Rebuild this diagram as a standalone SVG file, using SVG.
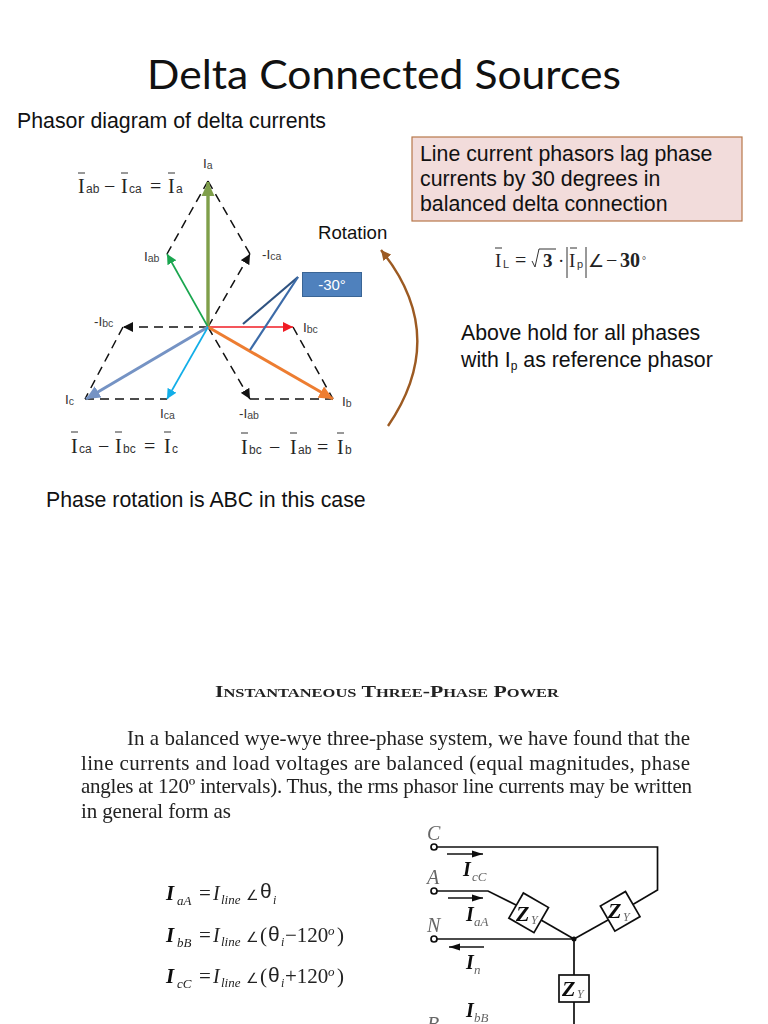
<svg xmlns="http://www.w3.org/2000/svg" width="768" height="1024" viewBox="0 0 768 1024">
<style>
.s{font-family:"Liberation Sans",Arial,sans-serif;fill:#111}
.m{font-size:21.3px}
.l{font-size:13.500px;fill:#333}
.ls{font-size:10.500px;fill:#444}
.e{font-family:"Liberation Serif","Times New Roman",serif;font-size:20px;fill:#222}
.es{font-family:"Liberation Sans",Arial,sans-serif;font-size:12px;fill:#333}
.bar{stroke:#333;stroke-width:1;fill:none}
.d{stroke:#111;stroke-width:1.5;stroke-dasharray:9 6;fill:none}
.t{font-family:"Liberation Serif","Times New Roman",serif;font-size:21px;fill:#222}
.q{font-family:"Liberation Serif","Times New Roman",serif;font-size:21px;fill:#222}
.i{font-family:"Liberation Serif","Times New Roman",serif;font-style:italic;fill:#222}
.bi{font-family:"Liberation Serif","Times New Roman",serif;font-style:italic;font-weight:bold;fill:#111}
.ang{font-family:"Liberation Serif","Times New Roman",serif;font-size:14px;fill:#222}
.th{font-family:"Liberation Sans",Arial,sans-serif;font-size:21px;fill:#222}
.w{stroke:#111;stroke-width:1.7;fill:none}
.soft{filter:url(#blur)}
</style>
<defs>
<filter id="blur" x="-5%" y="-5%" width="110%" height="110%"><feGaussianBlur stdDeviation="0.4"/></filter>
<marker id="ak" markerUnits="userSpaceOnUse" markerWidth="12" markerHeight="10" refX="10" refY="5" orient="auto"><path d="M0 0L10 5L0 10z" fill="#111"/></marker>
<marker id="ag" markerUnits="userSpaceOnUse" markerWidth="16" markerHeight="14" refX="14" refY="7" orient="auto"><path d="M0 0.5L14 7L0 13.500z" fill="#7f9f4a"/></marker>
<marker id="agr" markerUnits="userSpaceOnUse" markerWidth="12" markerHeight="10" refX="10" refY="5" orient="auto"><path d="M0 0L10 5L0 10z" fill="#1aa64f"/></marker>
<marker id="ar" markerUnits="userSpaceOnUse" markerWidth="12" markerHeight="10" refX="10" refY="5" orient="auto"><path d="M0 0L10 5L0 10z" fill="#f01c24"/></marker>
<marker id="ao" markerUnits="userSpaceOnUse" markerWidth="16" markerHeight="14" refX="14" refY="7" orient="auto"><path d="M0 0.5L14 7L0 13.500z" fill="#ed7d31"/></marker>
<marker id="ab" markerUnits="userSpaceOnUse" markerWidth="16" markerHeight="14" refX="14" refY="7" orient="auto"><path d="M0 0.5L14 7L0 13.500z" fill="#7593c4"/></marker>
<marker id="ac" markerUnits="userSpaceOnUse" markerWidth="12" markerHeight="10" refX="10" refY="5" orient="auto"><path d="M0 0L10 5L0 10z" fill="#12aee8"/></marker>
<marker id="an" markerUnits="userSpaceOnUse" markerWidth="12" markerHeight="10" refX="10" refY="5" orient="auto"><path d="M0 0L10 5L0 10z" fill="#9c5a22"/></marker>
<marker id="aw" markerUnits="userSpaceOnUse" markerWidth="12" markerHeight="8" refX="11" refY="4" orient="auto"><path d="M0 0.5L11 4L0 7.5z" fill="#111"/></marker>
</defs>
<rect width="768" height="1024" fill="#fff"/>
<text id="title" x="147" y="89" font-family="Lato,'Open Sans',sans-serif" font-size="41" fill="#111" textLength="474" lengthAdjust="spacingAndGlyphs">Delta Connected Sources</text>
<text id="subtitle" class="s m" x="17" y="128">Phasor diagram of delta currents</text>
<g id="connectors">
<path class="d" d="M208 181L167 254M208 181L250 254M123 327L85 399M293 327L333 399M85 399L167 399M250 399L333 399"/>
<path class="d" d="M208 327L250 254" marker-end="url(#ak)"/>
<path class="d" d="M208 327L123 327" marker-end="url(#ak)"/>
<path class="d" d="M208 327L250 399" marker-end="url(#ak)"/>
<path d="M208 327L208 182" stroke="#7f9f4a" stroke-width="3.4" fill="none" marker-end="url(#ag)"/>
<path d="M208 327L167 254" stroke="#1aa64f" stroke-width="1.7" fill="none" marker-end="url(#agr)"/>
<path d="M208 327L293 327" stroke="#f01c24" stroke-width="1.7" fill="none" marker-end="url(#ar)"/>
<path d="M208 327L333 399" stroke="#ed7d31" stroke-width="3" fill="none" marker-end="url(#ao)"/>
<path d="M208 327L86 399" stroke="#7593c4" stroke-width="3" fill="none" marker-end="url(#ab)"/>
<path d="M208 327L167 399" stroke="#12aee8" stroke-width="1.7" fill="none" marker-end="url(#ac)"/>
<path d="M298 277L243 324" stroke="#2f5381" stroke-width="2.2" fill="none"/>
<path d="M298 277L250 350" stroke="#3c6ba8" stroke-width="2.2" fill="none"/>
<path d="M388 426Q450 335 381 250" stroke="#9c5a22" stroke-width="2.4" fill="none" marker-end="url(#an)"/>
</g>
<g id="phasor-labels">
<text class="s l" x="203" y="168">I<tspan class="ls" dy="1">a</tspan></text>
<text class="s l" x="144" y="261">I<tspan class="ls" dy="1">ab</tspan></text>
<text class="s l" x="262" y="259">-I<tspan class="ls" dy="1">ca</tspan></text>
<text class="s l" x="94" y="326">-I<tspan class="ls" dy="1">bc</tspan></text>
<text class="s l" x="303" y="332">I<tspan class="ls" dy="1">bc</tspan></text>
<text class="s l" x="65" y="404">I<tspan class="ls" dy="1">c</tspan></text>
<text class="s l" x="160" y="418">I<tspan class="ls" dy="1">ca</tspan></text>
<text class="s l" x="239" y="418">-I<tspan class="ls" dy="1">ab</tspan></text>
<text class="s l" x="342" y="406">I<tspan class="ls" dy="1">b</tspan></text>
</g>
<g id="eq-a">
<path class="bar" d="M78 173H85M121 173H128M168 173H175"/>
<text class="e" x="78" y="193">I</text><text class="es" x="86" y="193">ab</text><text class="e" x="104" y="193">−</text>
<text class="e" x="121" y="193">I</text><text class="es" x="129" y="193">ca</text><text class="e" x="150" y="193">=</text>
<text class="e" x="168" y="193">I</text><text class="es" x="176" y="193">a</text>
</g>
<g id="eq-c">
<path class="bar" d="M71 432H78M115 432H122M164 432H171"/>
<text class="e" x="71" y="453">I</text><text class="es" x="79" y="453">ca</text><text class="e" x="98" y="453">−</text>
<text class="e" x="115" y="453">I</text><text class="es" x="123" y="453">bc</text><text class="e" x="144" y="453">=</text>
<text class="e" x="164" y="453">I</text><text class="es" x="172" y="453">c</text>
</g>
<g id="eq-b">
<path class="bar" d="M241 433H248M290 433H297M337 433H344"/>
<text class="e" x="241" y="454">I</text><text class="es" x="249" y="454">bc</text><text class="e" x="269" y="454">−</text>
<text class="e" x="290" y="454">I</text><text class="es" x="298" y="454">ab</text><text class="e" x="317" y="454">=</text>
<text class="e" x="337" y="454">I</text><text class="es" x="345" y="454">b</text>
</g>
<text id="rotation-note" class="s m" x="46" y="507">Phase rotation is ABC in this case</text>
<text id="rotation-label" class="s" font-size="18.600" x="318" y="239">Rotation</text>
<g id="callout">
<rect x="302.500" y="272.500" width="59" height="24" fill="#4f81bd" stroke="#3a6595"/>
<text class="s" x="332" y="290" font-size="15" text-anchor="middle" style="fill:#fff">-30°</text>
</g>
<g id="note">
<rect x="412" y="137" width="330" height="84" fill="#f2dcdb" stroke="#b7774a" stroke-width="1.2"/>
<text class="s m" x="420" y="161">Line current phasors lag phase</text>
<text class="s m" x="420" y="186">currents by 30 degrees in</text>
<text class="s m" x="420" y="211">balanced delta connection</text>
</g>
<g id="eq-line">
<path class="bar" d="M495 248H502M570 248H577M567 247V278M586 247V278"/>
<text class="e" x="495" y="267" style="font-size:19px">I</text><text class="es" x="503" y="268" style="font-size:11px">L</text>
<text class="e" x="515" y="267" style="font-size:20px">=</text>
<path class="bar" d="M532 261L535 267L539 249H556"/>
<text class="e" x="543" y="267" style="font-size:19px;font-weight:bold">3</text><text class="e" x="558" y="267" style="font-size:19px">·</text>
<text class="e" x="569" y="267" style="font-size:19px">I</text><text class="es" x="577" y="268" style="font-size:11px">p</text>
<text class="e" x="588" y="267" style="font-size:18px">∠</text>
<text class="e" x="606" y="267" style="font-size:20px">−</text><text class="e" x="620" y="267" style="font-size:20px;font-weight:bold">30</text>
<text class="e" x="642" y="264" style="font-size:10px">°</text>
</g>
<g id="hold-note">
<text class="s m" x="461" y="340">Above hold for all phases</text>
<text class="s m" x="461" y="367">with I<tspan font-size="12" dy="3">p</tspan><tspan dy="-3"> as reference phasor</tspan></text>
</g>
<g id="scan-text" class="soft">
<text class="t" x="215" y="697" font-weight="bold" style="font-size:16.500px" textLength="344" lengthAdjust="spacingAndGlyphs">I<tspan font-size="12.500">NSTANTANEOUS</tspan> T<tspan font-size="12.500">HREE</tspan>-P<tspan font-size="12.500">HASE</tspan> P<tspan font-size="12.500">OWER</tspan></text>
<text class="t" x="127" y="745" textLength="563">In a balanced wye-wye three-phase system, we have found that the</text>
<text class="t" x="81" y="770" textLength="609">line currents and load voltages are balanced (equal magnitudes, phase</text>
<text class="t" x="81" y="793" textLength="611">angles at 120º intervals). Thus, the rms phasor line currents may be written</text>
<text class="t" x="81" y="818" textLength="150">in general form as</text>
</g>
<g id="equations" class="soft">
<text x="166" y="900" font-size="21" class="bi">I</text><text x="177" y="905" font-size="13" class="i">aA</text><text x="199" y="900" class="q">=</text><text x="213" y="900" font-size="20" class="i">I</text><text x="221" y="904" font-size="13" class="i">line</text><text x="246" y="900" class="ang">∠</text><text x="260" y="898" class="th">θ</text><text x="273" y="904" font-size="12" class="i">i</text>
<text x="166" y="942" font-size="21" class="bi">I</text><text x="177" y="947" font-size="13" class="i">bB</text><text x="199" y="942" class="q">=</text><text x="213" y="942" font-size="20" class="i">I</text><text x="221" y="946" font-size="13" class="i">line</text><text x="246" y="942" class="ang">∠</text><text x="260" y="942" class="q">(</text><text x="268" y="941" class="th">θ</text><text x="281" y="946" font-size="12" class="i">i</text><text x="285" y="942" class="q">−120</text><text x="328" y="935" font-size="13" class="i">o</text><text x="337" y="942" class="q">)</text>
<text x="166" y="983" font-size="21" class="bi">I</text><text x="177" y="988" font-size="13" class="i">cC</text><text x="199" y="983" class="q">=</text><text x="213" y="983" font-size="20" class="i">I</text><text x="221" y="987" font-size="13" class="i">line</text><text x="246" y="983" class="ang">∠</text><text x="260" y="983" class="q">(</text><text x="268" y="982" class="th">θ</text><text x="281" y="987" font-size="12" class="i">i</text><text x="285" y="983" class="q">+120</text><text x="328" y="976" font-size="13" class="i">o</text><text x="337" y="983" class="q">)</text>
</g>
<g id="circuit" class="soft">
<path class="w" d="M437 847H657.500V890L632 905M608 920L574 939L541 920M516 905L488 891H437M437 939H574V1024"/>
<g fill="#fff" stroke="#111" stroke-width="1.700">
<circle cx="434" cy="847" r="3"/><circle cx="434" cy="891" r="3"/><circle cx="434" cy="939" r="3"/>
<rect x="559" y="975" width="30" height="27"/>
<rect x="514" y="898" width="29" height="29" transform="rotate(30 528 913)"/>
<rect x="606" y="897" width="29" height="29" transform="rotate(-30 620 912)"/>
</g>
<circle cx="574" cy="939" r="2.500" fill="#111"/>
<path class="w" d="M447 854H483" marker-end="url(#aw)"/>
<path class="w" d="M448 898H483" marker-end="url(#aw)"/>
<path class="w" d="M484 947H449" marker-end="url(#aw)"/>
<text x="427" y="840" font-size="20" class="i" style="fill:#666">C</text>
<text x="427" y="884" font-size="20" class="i" style="fill:#666">A</text>
<text x="427" y="932" font-size="20" class="i" style="fill:#666">N</text>
<text x="427" y="1031" font-size="20" class="i" style="fill:#666">B</text>
<text x="463" y="876" font-size="20" class="bi">I</text><text x="472" y="881" font-size="13" class="i" style="fill:#666">cC</text>
<text x="466" y="921" font-size="20" class="bi">I</text><text x="474" y="926" font-size="13" class="i" style="fill:#666">aA</text>
<text x="466" y="969" font-size="20" class="bi">I</text><text x="474" y="974" font-size="13" class="i" style="fill:#666">n</text>
<text x="466" y="1017" font-size="20" class="bi">I</text><text x="474" y="1022" font-size="13" class="i" style="fill:#666">bB</text>
<text x="562" y="996" font-size="22" class="bi">Z</text><text x="577" y="998" font-size="12" class="i" style="fill:#666">Y</text>
<text x="516" y="921" font-size="22" class="bi">Z</text><text x="531" y="924" font-size="12" class="i" style="fill:#666">Y</text>
<text x="608" y="918" font-size="22" class="bi">Z</text><text x="623" y="921" font-size="12" class="i" style="fill:#666">Y</text>
</g>
</svg>
